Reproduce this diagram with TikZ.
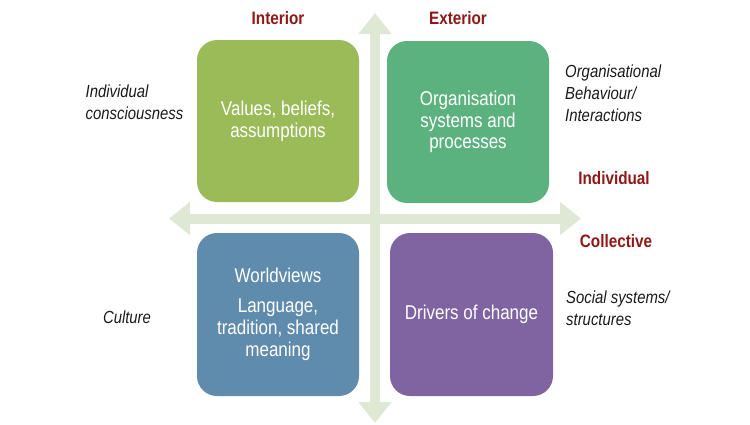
\documentclass[tikz,border=0pt]{standalone}
\usepackage{fontspec}
\setmainfont{Liberation Sans}[FakeStretch=0.85]
\usetikzlibrary{arrows.meta}
\definecolor{boxA}{HTML}{9BBB59}
\definecolor{boxB}{HTML}{5BB27E}
\definecolor{boxC}{HTML}{5F8BAD}
\definecolor{boxD}{HTML}{8064A2}
\definecolor{axisc}{HTML}{DFE8D5}
\definecolor{redc}{HTML}{901818}
\definecolor{notec}{HTML}{1A1A1A}
\begin{document}
\begin{tikzpicture}[x=1pt,y=-1pt,
  quad/.style={draw=none, fill=#1, rounded corners=20pt, minimum width=162pt, minimum height=162pt,
    text=white, font=\fontsize{20}{21.8}\selectfont, align=center, inner sep=0pt},
  axis/.style={draw=axisc, fill=axisc, line width=10pt,
    {Triangle[width=32pt,length=21pt]}-{Triangle[width=32pt,length=21pt]}},
  head/.style={text=redc, font=\bfseries\fontsize{18}{20}\selectfont, inner sep=0pt},
  note/.style={font=\itshape\fontsize{17.5}{22}\selectfont, align=left, text=notec, inner sep=0pt}
]
\useasboundingbox (0,0) rectangle (750,424);
% axes
\coordinate (vtop) at (375,13);
\coordinate (vbot) at (375,423);
\coordinate (hl) at (169,218.5);
\coordinate (hr) at (581,218.5);
\draw[axis] (hl) -- (hr);
\draw[axis] (vtop) -- (vbot);
% quadrants
\node[quad=boxA] (vb) at (278,121) {Values, beliefs,\\assumptions};
\node[quad=boxB] (os) at (468,122) {Organisation\\systems and\\processes};
\node[quad=boxC, minimum height=163pt] (wv) at (278,314.5) {Worldviews\\[8pt]Language,\\tradition, shared\\meaning};
\node[quad=boxD, minimum width=163pt, minimum height=163pt] (dc) at (471.5,314.5) {Drivers of change};
% headings
\node[head] (int) at (278,18) {Interior};
\node[head] (ext) at (458,18) {Exterior};
\node[head] (ind) at (614,178) {Individual};
\node[head] (col) at (616,241) {Collective};
% notes
\node[note, anchor=west] (ob) at (565,93) {Organisational\\Behaviour/\\Interactions};
\node[note, anchor=west] (ss) at (566,308.5) {Social systems/\\structures};
\node[note, anchor=west] (ic) at (85.5,102.5) {Individual\\consciousness};
\node[note] (cu) at (127,317) {Culture};
\end{tikzpicture}
\end{document}
